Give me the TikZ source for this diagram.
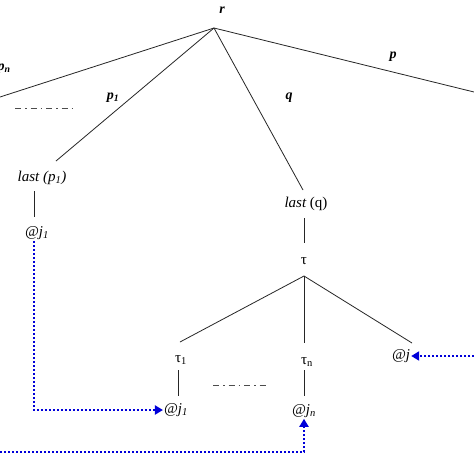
\documentclass[tikz,border=0pt]{standalone}
\usepackage{fontspec}
\setmainfont{Liberation Serif}
\usetikzlibrary{arrows.meta}
\begin{document}
\begin{tikzpicture}[x=1pt,y=-1pt,
  lbl/.style={inner sep=1pt,font=\fontsize{15}{17}\selectfont\itshape},
  upr/.style={inner sep=1pt,font=\fontsize{15}{17}\selectfont\upshape},
  blbl/.style={inner sep=1pt,font=\fontsize{14}{16}\selectfont\bfseries\itshape},
  edge/.style={draw=black!85,line width=0.8pt},
  dd/.style={draw=black!70,line width=0.8pt,dash pattern=on 6pt off 4pt on 1.5pt off 4pt},
  link/.style={draw=blue!85!black,line width=2.2pt,dash pattern=on 2pt off 2pt,-{Triangle[length=8pt,width=9pt]}}]
\useasboundingbox (0,0) rectangle (474,474);
\fill[white] (0,0) rectangle (474,474);
% root
\node[blbl] (rl) at (222,10) {r};
\coordinate (r) at (214,28);
\coordinate (le) at (0,97);
\coordinate (re) at (474,92);
\node[blbl] (pn) at (4,69) {p\textsubscript{n}};
\node[blbl] (p1l) at (113,98) {p\textsubscript{1}};
\node[blbl] (ql) at (289,98) {q};
\node[blbl] (pl) at (393,57) {p};
\coordinate (d1) at (15,108);
\coordinate (d2) at (72,108);
\draw[dd] (d1) -- (d2);
% left branch
\node[lbl] (lp1) at (42,178) {last (p\textsubscript{1})};
\node[lbl] (aj1) at (37,233) {@j\textsubscript{1}};
\coordinate (lp1t) at (56,161);
\draw[edge] (r) -- (le);
\draw[edge] (r) -- (re);
\draw[edge] (r) -- (lp1t);
\draw[edge] (34,191) coordinate (a1) -- (34,217) coordinate (a2);
% q branch
\node[lbl] (lq) at (306,204) {last \upshape(q)};
\coordinate (lqt) at (303,190);
\draw[edge] (r) -- (lqt);
\draw[edge] (304,218) coordinate (b1) -- (304,243) coordinate (b2);
\node[upr] (tau) at (304,261) {τ};
\coordinate (t) at (304,276);
\coordinate (t1t) at (180,342);
\coordinate (tnt) at (304,343);
\coordinate (ajt) at (412,343);
\draw[edge] (t) -- (t1t);
\draw[edge] (t) -- (tnt);
\draw[edge] (t) -- (ajt);
\node[upr] (t1) at (181,360) {τ\textsubscript{1}};
\node[upr] (tn) at (307,362) {τ\textsubscript{n}};
\node[lbl] (aj) at (401,356) {@j};
\draw[edge] (178,370) coordinate (c1) -- (178,396) coordinate (c2);
\draw[edge] (304,370) coordinate (e1) -- (304,396) coordinate (e2);
\node[lbl] (bj1) at (176,410) {@j\textsubscript{1}};
\node[lbl] (bjn) at (304,411) {@j\textsubscript{n}};
\draw[dd] (213,385) coordinate (f1) -- (268,385) coordinate (f2);
% blue links
\coordinate (k1) at (34,410);
\coordinate (k2) at (0,452);
\coordinate (k3) at (304,452);
\coordinate (k4) at (474,356);
\draw[link] (aj1.south -| k1) -- (k1) -- (bj1.west);
\draw[link] (k2) -- (k3) -- (bjn.south);
\draw[link] (k4) -- (aj.east);
\end{tikzpicture}
\end{document}
